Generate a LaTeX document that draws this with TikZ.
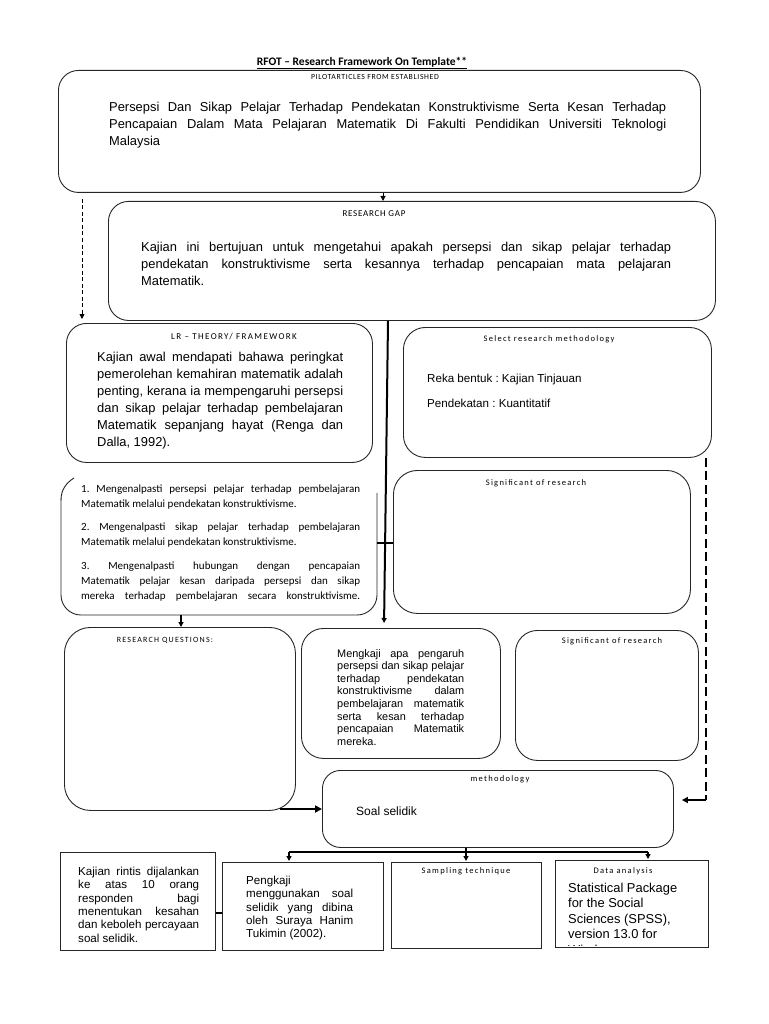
\documentclass[tikz,border=0pt]{standalone}
\usepackage{fontspec}
\setmainfont{Liberation Sans}
\newfontfamily\calfont{Carlito}
\newfontfamily\calsp[LetterSpace=15]{Carlito}
\newfontfamily\calspb[LetterSpace=8]{Carlito}
\usetikzlibrary{arrows.meta}
\newcommand\jline[2]{\makebox[#1][s]{#2}}
\frenchspacing
\begin{document}
\begin{tikzpicture}[x=1pt,y=-1pt,
  rbox/.style={draw=black!85, line width=0.9pt, rounded corners=#1, inner sep=0pt, anchor=north west},
  rbox/.default=18pt,
  sbox/.style={draw=black!85, line width=0.9pt, inner sep=0pt, anchor=north west},
  txt/.style={inner sep=0pt, anchor=north west, align=left},
  ttl/.style={inner sep=0pt, anchor=center, font=\calsp\fontsize{8.5}{10}\selectfont},
  tip/.style={-{Triangle[length=5pt,width=5pt]}},
  conn/.style={draw=black, line width=1pt},
  dashthin/.style={draw=black, line width=0.9pt, dash pattern=on 4pt off 2.5pt},
  dashthick/.style={draw=black, line width=2.4pt, dash pattern=on 9pt off 4.5pt},
  heavy/.style={draw=black, line width=2.6pt}
]
\useasboundingbox (0,0) rectangle (768,1024);

% title
\node[inner sep=0pt, font=\calfont\bfseries\fontsize{11.5}{13}\selectfont] (title) at (362,63) {\underline{RFOT – Research Framework On Template**}};

% boxes
\node[rbox=20pt, minimum width=642, minimum height=122] (top) at (58,70) {};
\node[rbox=20pt, minimum width=607, minimum height=119] (gap) at (108,201) {};
\node[rbox=20pt, minimum width=306, minimum height=139] (lr) at (66,323) {};
\node[rbox=22pt, minimum width=308, minimum height=130] (sel) at (403,327) {};
\node[inner sep=0pt, anchor=north west, minimum width=316, minimum height=137] (obj) at (61,478) {};
\node[rbox=24pt, minimum width=297, minimum height=143] (sig1) at (393,470) {};
\node[rbox=26pt, minimum width=231, minimum height=183] (rq) at (64,627) {};
\node[rbox=22pt, minimum width=199, minimum height=130] (mk) at (301,628) {};
\node[rbox=22pt, minimum width=183, minimum height=130] (sig2) at (515,630) {};
\node[rbox=18pt, minimum width=351, minimum height=77] (meth) at (322,770) {};
\node[sbox, minimum width=155, minimum height=98] (A) at (60,852) {};
\node[sbox, minimum width=161, minimum height=88] (B) at (222,862) {};
\node[sbox, minimum width=150, minimum height=86] (C) at (391,862) {};
\node[sbox, minimum width=153, minimum height=87] (D) at (555,860) {};

% objectives box outline (open at the top)
\draw[draw=black!85, line width=0.9pt] (74,478) .. controls (66,483) and (61,490) .. (61,500);
\draw[draw=black!85, line width=0.9pt, rounded corners=20pt] (61,499) -- (61,615) -- (377,615) -- (377,493);

% titles
\node[inner sep=0pt, font=\calspb\fontsize{7.8}{9}\selectfont] (pilot) at (375,77) {PILOTARTICLES FROM ESTABLISHED};
\node[inner sep=0pt, font=\calspb\fontsize{9}{10}\selectfont] (tgaptl) at (374,214) {RESEARCH GAP};
\node[ttl, font=\calsp\fontsize{9}{10}\selectfont] (tlrtl) at (234,337) {LR – THEORY/ FRAMEWORK};
\node[ttl] (tseltl) at (549,339) {Select research methodology};
\node[ttl] (tsig1tl) at (536,483) {Significant of research};
\node[ttl, font=\calsp\fontsize{8}{9}\selectfont] (trqtl) at (165,640) {RESEARCH QUESTIONS:};
\node[ttl] (tsig2tl) at (612,641) {Significant of research};
\node[ttl] (tmethtl) at (500,779) {methodology};
\node[ttl] (tctl) at (466,871) {Sampling technique};
\node[ttl] (tdtl) at (623,871) {Data analysis};

% texts
\node[txt, font=\fontsize{12.9}{17}\selectfont] (ttop) at (109,101.5) {%
\jline{557pt}{Persepsi Dan Sikap Pelajar Terhadap Pendekatan Konstruktivisme Serta Kesan Terhadap}\\
\jline{557pt}{Pencapaian Dalam Mata Pelajaran Matematik Di Fakulti Pendidikan Universiti Teknologi}\\
Malaysia};
\node[txt, font=\fontsize{12.9}{17}\selectfont] (tgap) at (141,241.5) {%
\jline{530pt}{Kajian ini bertujuan untuk mengetahui apakah persepsi dan sikap pelajar terhadap}\\
\jline{530pt}{pendekatan konstruktivisme serta kesannya terhadap pencapaian mata pelajaran}\\
Matematik.};
\node[txt, font=\fontsize{12.9}{17}\selectfont] (tlr) at (97,351.5) {%
\jline{246pt}{Kajian awal mendapati bahawa peringkat}\\
\jline{246pt}{pemerolehan kemahiran matematik adalah}\\
\jline{246pt}{penting, kerana ia mempengaruhi persepsi}\\
\jline{246pt}{dan sikap pelajar terhadap pembelajaran}\\
\jline{246pt}{Matematik sepanjang hayat (Renga dan}\\
Dalla, 1992).};
\node[txt, font=\fontsize{11.6}{25}\selectfont] (tsel) at (427,374) {%
Reka bentuk : Kajian Tinjauan\\
Pendekatan : Kuantitatif};
\node[txt, font=\calfont\fontsize{11}{15}\selectfont] (tobj) at (81,484.5) {%
\jline{279pt}{1. Mengenalpasti persepsi pelajar terhadap pembelajaran}\\
Matematik melalui pendekatan konstruktivisme.\\[8.5pt]
\jline{279pt}{2. Mengenalpasti sikap pelajar terhadap pembelajaran}\\
Matematik melalui pendekatan konstruktivisme.\\[8.5pt]
\jline{279pt}{3. Mengenalpasti hubungan dengan pencapaian}\\
\jline{279pt}{Matematik pelajar kesan daripada persepsi dan sikap}\\
\jline{279pt}{mereka terhadap pembelajaran secara konstruktivisme.}};
\node[txt, font=\fontsize{10.9}{12.6}\selectfont] (tmk) at (337,649) {%
\jline{127pt}{Mengkaji apa pengaruh}\\
\jline{127pt}{persepsi dan sikap pelajar}\\
\jline{127pt}{terhadap pendekatan}\\
\jline{127pt}{konstruktivisme dalam}\\
\jline{127pt}{pembelajaran matematik}\\
\jline{127pt}{serta kesan terhadap}\\
\jline{127pt}{pencapaian Matematik}\\
mereka.};
\node[txt, font=\fontsize{12}{14}\selectfont] (tsoal) at (356,807) {Soal selidik};
\node[txt, font=\fontsize{11.6}{13.3}\selectfont] (ta) at (78,867) {%
\jline{121pt}{Kajian rintis dijalankan}\\
\jline{121pt}{ke atas 10 orang}\\
\jline{121pt}{responden bagi}\\
\jline{121pt}{menentukan kesahan}\\
\jline{121pt}{dan keboleh percayaan}\\
soal selidik.};
\node[txt, font=\fontsize{11.6}{13.3}\selectfont] (tb) at (246,876) {%
Pengkaji\\
\jline{107pt}{menggunakan soal}\\
\jline{107pt}{selidik yang dibina}\\
\jline{107pt}{oleh Suraya Hanim}\\
Tukimin (2002).};
\begin{scope}
\clip (556,861) rectangle (707,945.5);
\node[txt, font=\fontsize{12.9}{15.6}\selectfont] (td) at (568,882.5) {%
Statistical Package\\
for the Social\\
Sciences (SPSS),\\
version 13.0 for\\
Windows};
\end{scope}

% connectors
\coordinate (xa) at (383,0);
\draw[conn, tip] (xa |- top.south) -- (xa |- gap.north);
\coordinate (dl) at (82,199);
\draw[dashthin, tip, shorten >=4pt] (dl) -- (dl |- lr.north);
\coordinate (xv1) at (388,0);
\coordinate (xv2) at (384,0);
\draw[conn, line width=2pt, tip, shorten >=5pt] (xv1 |- gap.south) -- (xv2 |- mk.north);
\coordinate (yt) at (0,543);
\draw[conn, line width=1.3pt] (obj.east |- yt) -- (sig1.west |- yt);
\coordinate (xo) at (181,0);
\draw[conn, line width=1.5pt, tip] (xo |- obj.south) -- (xo |- rq.north);
\coordinate (ym) at (0,809);
\coordinate (rqc) at ([xshift=-16pt]rq.east);
\draw[heavy, -{Triangle[length=7pt,width=7pt]}] (rqc |- ym) -- (meth.west |- ym);
\coordinate (xr) at (706,0);
\coordinate (yd) at (0,800);
\draw[dashthick] (xr |- sel.south) -- (xr |- yd);
\draw[heavy, line width=2pt, -{Triangle[length=6pt,width=6pt]}, shorten >=8pt] (xr |- yd) -- (meth.east |- yd);
\coordinate (yb) at (0,852);
\coordinate (xb1) at (289,0);
\coordinate (xb2) at (466,0);
\coordinate (xb3) at (648,0);
\draw[heavy] (xb1 |- yb) -- (xb3 |- yb);
\draw[conn, line width=1.5pt, tip, shorten >=1pt] (xb1 |- yb) -- (xb1 |- B.north);
\draw[conn, line width=1.8pt, tip, shorten >=1pt] (xb2 |- meth.south) -- (xb2 |- C.north);
\draw[conn, line width=1.5pt, tip, shorten >=1pt] (xb3 |- yb) -- (xb3 |- D.north);
\coordinate (yab) at (0,913);
\draw[conn, line width=2.2pt] (A.east |- yab) -- (B.west |- yab);
\end{tikzpicture}
\end{document}
